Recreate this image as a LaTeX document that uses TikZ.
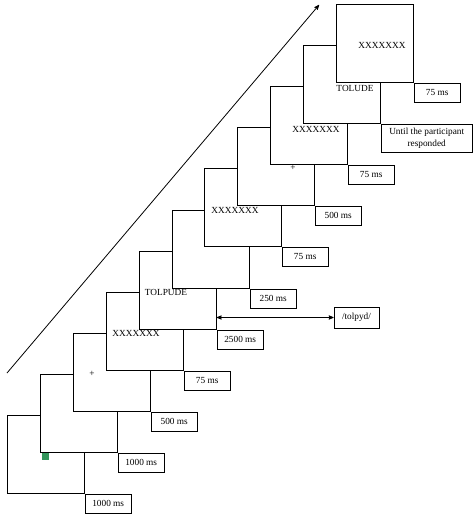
\documentclass[tikz,border=0pt]{standalone}
\usepackage{fontspec}
\setmainfont{Liberation Serif}
\usetikzlibrary{shapes,arrows,positioning,calc}
\definecolor{cuegreen}{RGB}{52,150,92}

\begin{document}
\begin{tikzpicture}[x=1pt, y=-1pt, line width=0.8pt, >=stealth',
    font=\fontsize{9.3}{11.5}\selectfont,
    screen/.style={draw, rectangle, fill=white, anchor=north west, minimum width=77pt, minimum height=78pt, inner sep=0pt},
    dur/.style={draw, rectangle, fill=white, anchor=north west, minimum width=46pt, minimum height=19pt, inner sep=1pt}]
\useasboundingbox (0,0) rectangle (474,516);

% time axis
\coordinate (tstart) at (7,373);
\coordinate (tend) at (319,5);
\draw[->] (tstart) -- (tend);

% screens, later ones in front
\node[screen] (s1) at (7,415) {};
\node[dur] (d1) at (s1.south east) {1000 ms};
\node[screen] (s2) at (40,374) {};
\node[dur] (d2) at (s2.south east) {1000 ms};
\node[screen] (s3) at (73,333) {};
\node[dur] (d3) at (s3.south east) {500 ms};
\node[screen] (s4) at (106,292) {};
\node[dur] (d4) at (s4.south east) {75 ms};
\node[screen] (s5) at (139,251) {};
\node[dur] (d5) at (s5.south east) {2500 ms};
\node[screen] (s6) at (172,210) {};
\node[dur] (d6) at (s6.south east) {250 ms};
\node[screen] (s7) at (204,168) {};
\node[dur] (d7) at (s7.south east) {75 ms};
\node[screen] (s8) at (237,127) {};
\node[dur] (d8) at (s8.south east) {500 ms};
\node[screen] (s9) at (270,86) {};
\node[dur] (d9) at (s9.south east) {75 ms};
\node[screen] (s10) at (303,45) {};
\node[dur, minimum width=91pt, minimum height=28pt, align=center] (d10) at (s10.south east) {Until the participant\\responded};
\node[screen] (s11) at (336,4) {};
\node[dur] (d11) at (s11.south east) {75 ms};

% stimuli
\node[fill=cuegreen, minimum size=7pt, inner sep=0pt] (cue) at (45.5,456.5) {};
\node (fix1) at (92,374) {+};
\node (mask1) at (136,333) {XXXXXXX};
\node (prime) at (166,292) {TOLPUDE};
\node (mask2) at (235,210) {XXXXXXX};
\node (fix2) at (293,168) {+};
\node (mask3) at (316,129) {XXXXXXX};
\node (target) at (355,88) {TOLUDE};
\node (mask4) at (382,45) {XXXXXXX};

% auditory prime
\node[draw, rectangle, fill=white, minimum width=45pt, minimum height=21pt] (tolpyd) at (356.5,317.5) {/tolpyd/};
\draw[<->] (s5.east |- tolpyd) -- (tolpyd);
\end{tikzpicture}
\end{document}
